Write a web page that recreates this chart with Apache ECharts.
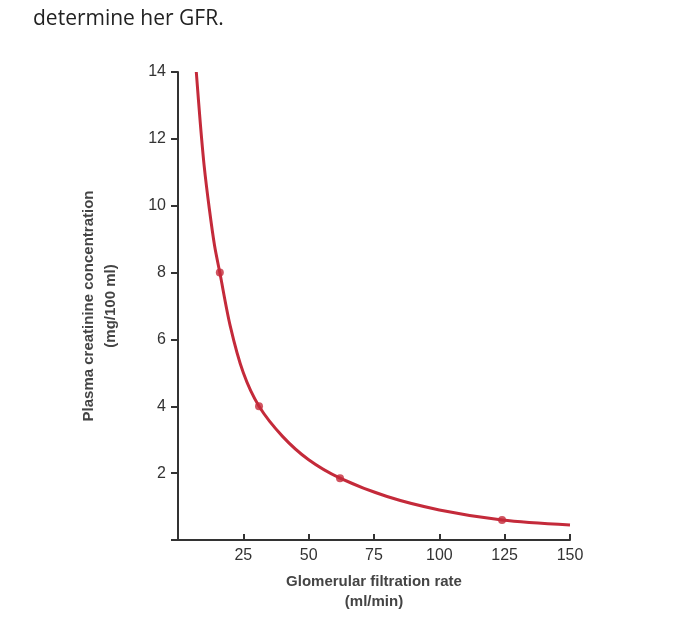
<!DOCTYPE html>
<html><head><meta charset="utf-8">
<script src="https://cdn.jsdelivr.net/npm/echarts@6/dist/echarts.min.js"></script>
<style>body{margin:0;background:#fff}#c{width:700px;height:630px}</style>
</head><body><div id="c"></div>
<script>
// curve
var curve = [[7,14],[8.5,12.5],[10,11.2],[12,9.9],[14,8.8],[16,8],[20,6.4],[25,5],[31,4],[40,3.1],[50,2.4],[62,1.85],[80,1.3],[100,0.9],[124,0.6],[150,0.45]];
var marked = [[16,8],[31,4],[62,1.85],[124,0.6]];
var xTicks = [25, 50, 75, 100, 125, 150];
var yTicks = [2, 4, 6, 8, 10, 12, 14];

var chart = echarts.init(document.getElementById('c'));
chart.setOption({
  backgroundColor: '#fff',
  title: { text: 'determine her GFR.', left: 28, top: 4,
    textStyle: { fontFamily: 'Open Sans', fontSize: 21, fontWeight: 'normal', color: '#222' } },
  grid: { left: 178, right: 130, top: 72, bottom: 90 },
  xAxis: {
    type: 'value', min: 0, max: 150, interval: 25,
    name: 'Glomerular filtration rate\n(ml/min)', nameLocation: 'middle', nameGap: 32,
    nameTextStyle: { fontFamily: 'Liberation Sans', fontSize: 15, fontWeight: 'bold', color: '#444', lineHeight: 20 },
    axisLine: { lineStyle: { color: '#333', width: 2 } },
    axisTick: { lineStyle: { color: '#333', width: 2 }, length: 6, inside: true },
    axisLabel: { fontFamily: 'Liberation Sans', fontSize: 16, color: '#333',
      formatter: function (v) { return xTicks.indexOf(v) >= 0 ? v : ''; } },
    splitLine: { show: false }
  },
  yAxis: {
    type: 'value', min: 0, max: 14, interval: 2,
    name: 'Plasma creatinine concentration\n(mg/100 ml)', nameLocation: 'middle', nameGap: 56,
    nameTextStyle: { fontFamily: 'Liberation Sans', fontSize: 15, fontWeight: 'bold', color: '#444', lineHeight: 22 },
    axisLine: { lineStyle: { color: '#333', width: 2 } },
    axisTick: { lineStyle: { color: '#333', width: 2 }, length: 7 },
    axisLabel: { fontFamily: 'Liberation Sans', fontSize: 16, color: '#333', margin: 12,
      formatter: function (v) { return yTicks.indexOf(v) >= 0 ? v : ''; } },
    splitLine: { show: false }
  },
  series: [
    { type: 'line', data: curve, smooth: 0.3, showSymbol: false,
      lineStyle: { color: '#c42a3a', width: 3 } },
    { type: 'scatter', data: marked, symbolSize: 8, itemStyle: { color: '#c42a3a' } }
  ]
});
</script></body></html>
